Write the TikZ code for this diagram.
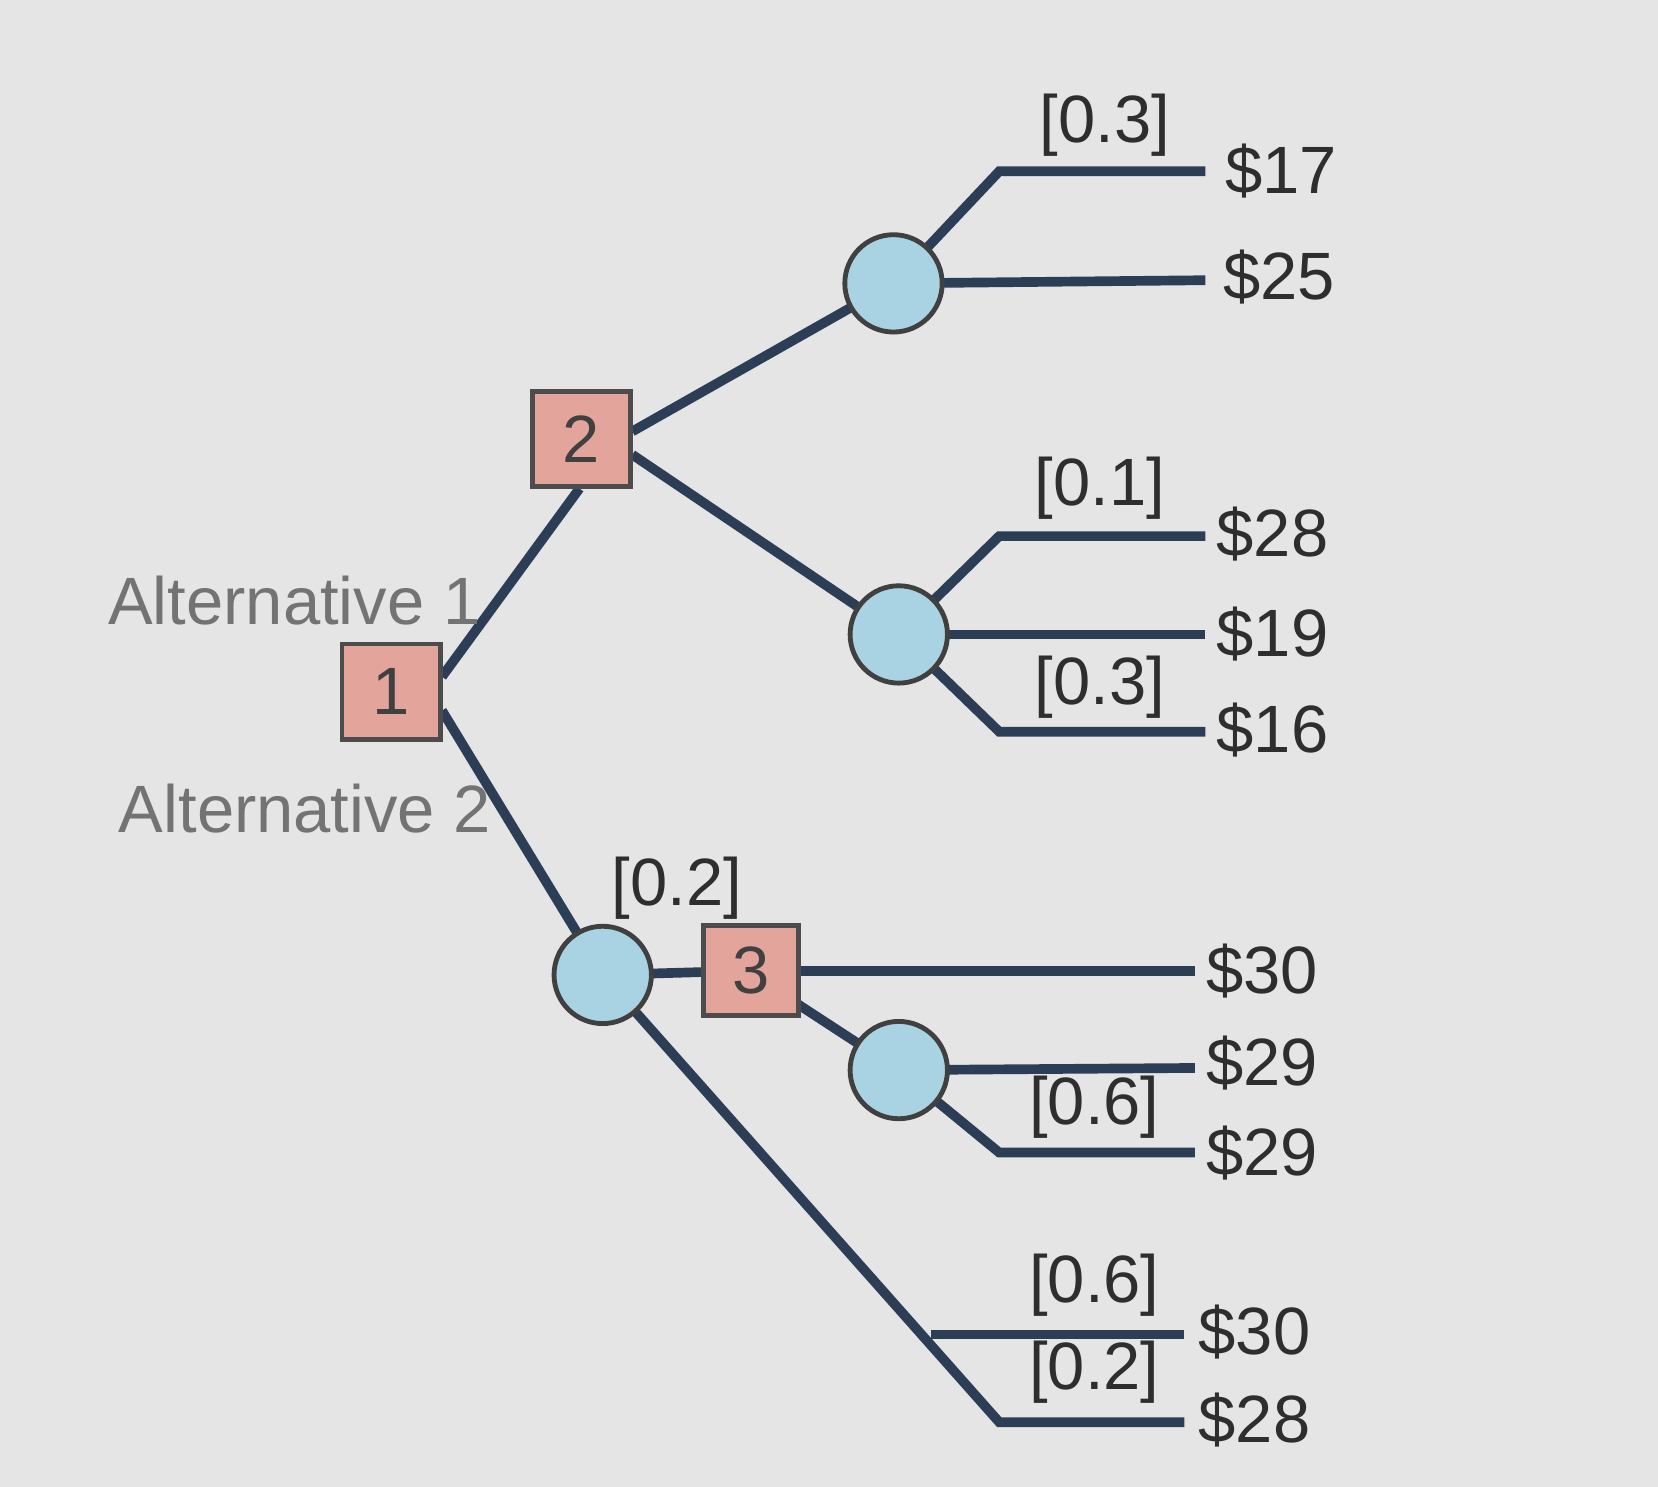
\documentclass[tikz,border=0pt]{standalone}
\usepackage{fontspec}
\setmainfont{Liberation Sans}
\begin{document}
\begin{tikzpicture}[x=0.01cm,y=-0.01cm,
  ln/.style={draw=lcol,line width=2.6pt},
  dec/.style={draw=black!70,line width=1.3pt,fill=pinkc,minimum width=0.93cm,minimum height=0.9cm,inner sep=0pt,text=black!75,font=\fontsize{18}{18}\selectfont},
  chn/.style={circle,draw=black!75,line width=1.3pt,fill=bluec,minimum size=0.92cm,inner sep=0pt},
  lab/.style={text=black!82,font=\fontsize{18}{18}\selectfont,inner sep=0pt},
  val/.style={lab,anchor=west},
  alt/.style={text=black!55,font=\fontsize{18}{18}\selectfont,inner sep=0pt,anchor=east}]
\definecolor{lcol}{HTML}{2C3E56}
\definecolor{pinkc}{HTML}{E3A49C}
\definecolor{bluec}{HTML}{A9D3E2}
\fill[black!10] (0,0) rectangle (1568,1406);
\useasboundingbox (0,0) rectangle (1568,1406);
\coordinate (n1) at (370,654);
\coordinate (n2) at (550,415);
\coordinate (n3) at (710,918);
\coordinate (cA) at (845,268);
\coordinate (cB) at (850,600);
\coordinate (cC) at (570,922);
\coordinate (cD) at (850,1012);
\coordinate (a1) at (945,162); \coordinate (a1e) at (1140,162);
\coordinate (a2e) at (1140,265);
\coordinate (b1) at (945,507); \coordinate (b1e) at (1140,507);
\coordinate (b2e) at (1140,600);
\coordinate (b3) at (945,692); \coordinate (b3e) at (1140,692);
\coordinate (t3e) at (1130,918);
\coordinate (d2e) at (1130,1010);
\coordinate (d3) at (945,1090); \coordinate (d3e) at (1130,1090);
\coordinate (c1) at (880,1262); \coordinate (c1e) at (1120,1262);
\coordinate (c2) at (945,1345); \coordinate (c2e) at (1120,1345);
\coordinate (n1a) at (418,640); \coordinate (n1b) at (418,672);
\coordinate (n2a) at (598,408); \coordinate (n2b) at (598,430);
\coordinate (n3b) at (755,950);
\draw[ln] (n1a) -- (548,462);
\draw[ln] (n1b) -- (cC);
\draw[ln] (n2a) -- (cA);
\draw[ln] (n2b) -- (cB);
\draw[ln] (cA) -- (a1) -- (a1e);
\draw[ln] (cA) -- (a2e);
\draw[ln] (cB) -- (b1) -- (b1e);
\draw[ln] (cB) -- (b2e);
\draw[ln] (cB) -- (b3) -- (b3e);
\draw[ln] (cC) -- (n3);
\draw[ln] (n3) -- (t3e);
\draw[ln] (n3b) -- (cD);
\draw[ln] (cD) -- (d2e);
\draw[ln] (cD) -- (d3) -- (d3e);
\draw[ln] (cC) -- (c2) -- (c2e);
\draw[ln] (c1) -- (c1e);
\node[dec] (N1) at (n1) {1};
\node[dec] (N2) at (n2) {2};
\node[dec,minimum width=0.9cm,minimum height=0.85cm] (N3) at (n3) {3};
\node[chn] (CA) at (cA) {};
\node[chn] (CB) at (cB) {};
\node[chn] (CC) at (cC) {};
\node[chn] (CD) at (cD) {};
\node[lab] (l1) at (1045,118) {[0.3]};
\node[val] (v1) at (1158,162) {\$17};
\node[val] (v2) at (1156,262) {\$25};
\node[lab] (l2) at (1040,462) {[0.1]};
\node[val] (v3) at (1150,505) {\$28};
\node[val] (v4) at (1150,600) {\$19};
\node[lab] (l3) at (1040,650) {[0.3]};
\node[val] (v5) at (1150,690) {\$16};
\node[alt] (al1) at (455,568) {Alternative 1};
\node[alt] (al2) at (465,765) {Alternative 2};
\node[lab] (l4) at (640,840) {[0.2]};
\node[val] (v6) at (1140,918) {\$30};
\node[val] (v7) at (1140,1005) {\$29};
\node[lab] (l5) at (1035,1047) {[0.6]};
\node[val] (v8) at (1140,1090) {\$29};
\node[lab] (l6) at (1035,1215) {[0.6]};
\node[val] (v9) at (1133,1260) {\$30};
\node[lab] (l7) at (1035,1298) {[0.2]};
\node[val] (v10) at (1133,1343) {\$28};
\end{tikzpicture}
\end{document}
